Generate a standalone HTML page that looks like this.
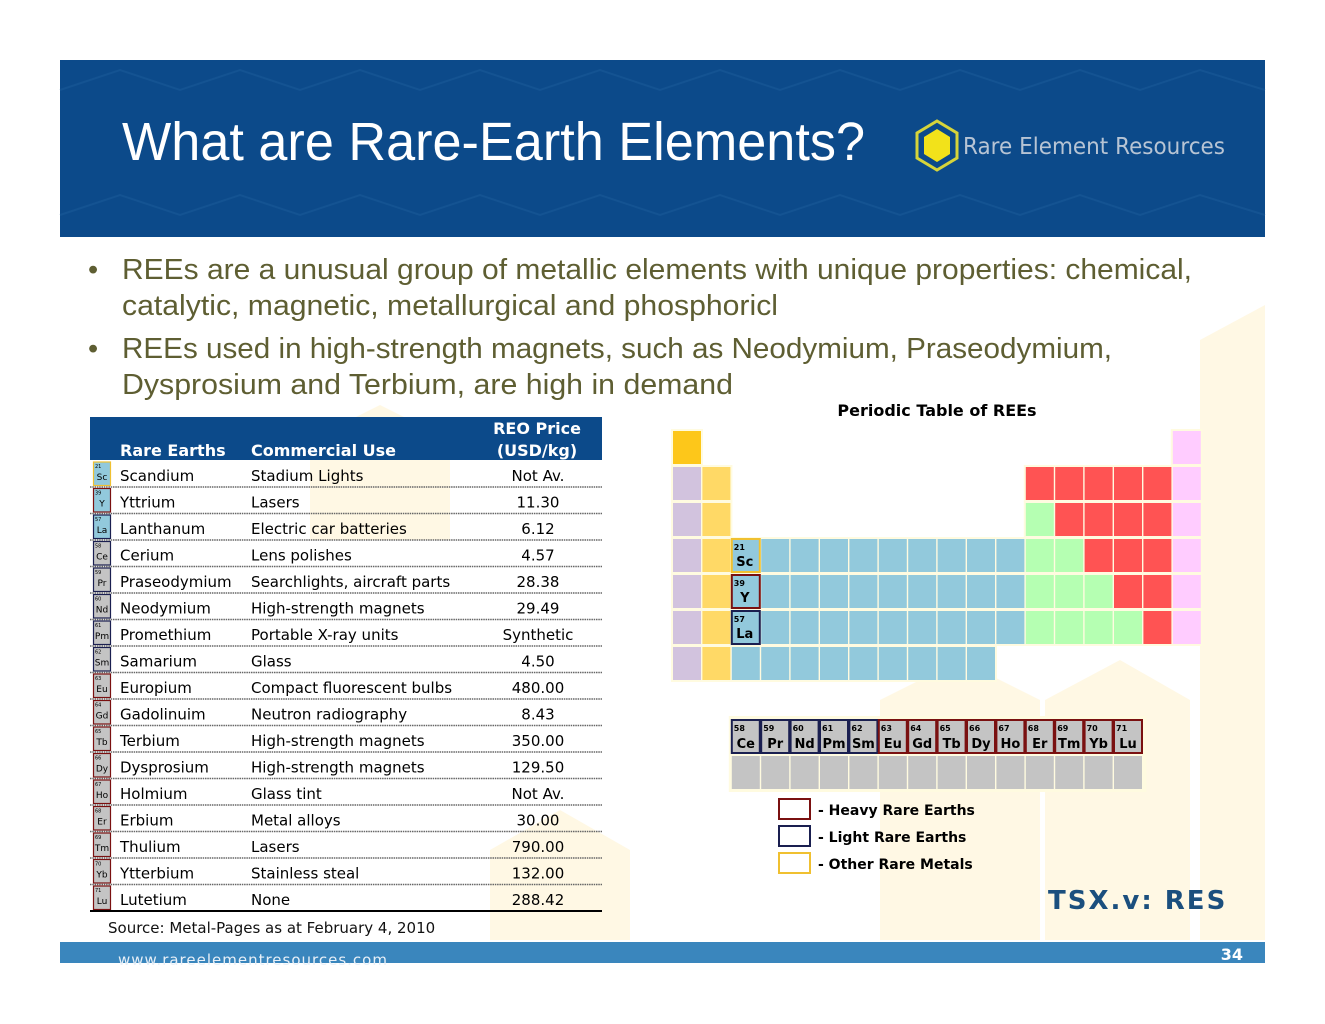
<!DOCTYPE html>
<html><head><meta charset="utf-8">
<style>
html,body{margin:0;padding:0;background:#fff;}
svg{display:block;font-family:"DejaVu Sans","Liberation Sans",sans-serif;}
</style></head>
<body>
<svg id="s" width="1325" height="1024" viewBox="0 0 1325 1024" xmlns="http://www.w3.org/2000/svg">
<rect width="1325" height="1024" fill="#fff"/>
<g fill="#fff8e4">
<polygon points="310,440 380,405 450,440 450,540 310,540"/>
<polygon points="880,940 880,700 960,660 1040,700 1040,940"/>
<polygon points="1045,940 1045,700 1120,660 1190,700 1190,940"/>
<polygon points="490,940 490,850 560,810 630,850 630,940"/>
<polygon points="1200,940 1200,340 1265,305 1265,940"/>
</g>
<rect x="60" y="60" width="1205" height="177" fill="#0c4a8a"/>
<g stroke="#1a5a98" stroke-width="2" fill="none" opacity="0.6">
<path d="M60,90 L120,70 L180,90 L240,70 L300,90 L360,70 L420,90 L480,70 L540,90 L600,70 L660,90 L720,70 L780,90 L840,70 L900,90 L960,70 L1020,90 L1080,70 L1140,90 L1200,70 L1265,90"/>
<path d="M60,215 L120,195 L180,215 L240,195 L300,215 L360,195 L420,215 L480,195 L540,215 L600,195 L660,215 L720,195 L780,215 L840,195 L900,215 L960,195 L1020,215 L1080,195 L1140,215 L1200,195 L1265,215"/>
</g>
<text x="122" y="160" font-family="Liberation Sans, sans-serif" font-size="54" fill="#fff" textLength="743" lengthAdjust="spacingAndGlyphs">What are Rare-Earth Elements?</text>
<g>
<polygon points="937,121 957,133 957,158 937,170 917,158 917,133" fill="none" stroke="#d6d43a" stroke-width="3"/>
<polygon points="937,129 950,137 950,154 937,162 924,154 924,137" fill="#f2e21a"/>
<text x="963" y="154" font-size="23" fill="#b7c4d4" textLength="262" lengthAdjust="spacingAndGlyphs">Rare Element Resources</text>
</g>
<g font-family="Liberation Sans, sans-serif" font-size="29" fill="#5e5e32">
<text x="88" y="279">•</text>
<text x="122" y="279" textLength="1070" lengthAdjust="spacingAndGlyphs">REEs are a unusual group of metallic elements with unique properties: chemical,</text>
<text x="122" y="315" textLength="656" lengthAdjust="spacingAndGlyphs">catalytic, magnetic, metallurgical and phosphoricl</text>
<text x="88" y="358">•</text>
<text x="122" y="358" textLength="990" lengthAdjust="spacingAndGlyphs">REEs used in high-strength magnets, such as Neodymium, Praseodymium,</text>
<text x="122" y="394" textLength="611" lengthAdjust="spacingAndGlyphs">Dysprosium and Terbium, are high in demand</text>
</g>
<g id="tbl">
<rect x="90" y="417" width="512" height="43" fill="#0c4a8a"/>
<g font-weight="bold" font-size="16" fill="#fff">
<text x="120" y="456">Rare Earths</text>
<text x="251" y="456">Commercial Use</text>
<text x="537" y="434" text-anchor="middle">REO Price</text>
<text x="537" y="456" text-anchor="middle">(USD/kg)</text>
</g>
</g>
<text x="108" y="933" font-size="15" fill="#111">Source: Metal-Pages as at February 4, 2010</text>
<text x="937" y="416" text-anchor="middle" font-size="16" font-weight="bold" fill="#000">Periodic Table of REEs</text>
<g id="pt"></g>
<g font-size="14" font-weight="bold" fill="#000">
<rect x="779" y="799" width="31" height="20" fill="#fff" stroke="#7a1010" stroke-width="2"/>
<text x="818" y="815">- Heavy Rare Earths</text>
<rect x="779" y="826" width="31" height="20" fill="#fff" stroke="#1a1f50" stroke-width="2"/>
<text x="818" y="842">- Light Rare Earths</text>
<rect x="779" y="853" width="31" height="20" fill="#fff" stroke="#f0c030" stroke-width="2"/>
<text x="818" y="869">- Other Rare Metals</text>
</g>
<text x="1048" y="909" font-size="26" font-weight="bold" fill="#1b4f7e" letter-spacing="2">TSX.v: RES</text>
<rect x="60" y="942" width="1205" height="21" fill="#3a86bd"/>
<text x="118" y="965" font-size="15" fill="#e8f0f8" letter-spacing="1">www.rareelementresources.com</text>
<text x="1243" y="960" text-anchor="end" font-size="16" font-weight="bold" fill="#fff">34</text>
</svg>
<script>
var NS="http://www.w3.org/2000/svg";
var symbols=["Sc","Y","La","Ce","Pr","Nd","Pm","Sm","Eu","Gd","Tb","Dy","Ho","Er","Tm","Yb","Lu"];
var numbers=[21,39,57,58,59,60,61,62,63,64,65,66,67,68,69,70,71];
var names=["Scandium","Yttrium","Lanthanum","Cerium","Praseodymium","Neodymium","Promethium","Samarium","Europium","Gadolinuim","Terbium","Dysprosium","Holmium","Erbium","Thulium","Ytterbium","Lutetium"];
var uses=["Stadium Lights","Lasers","Electric car batteries","Lens polishes","Searchlights, aircraft parts","High-strength magnets","Portable X-ray units","Glass","Compact fluorescent bulbs","Neutron radiography","High-strength magnets","High-strength magnets","Glass tint","Metal alloys","Lasers","Stainless steal","None"];
var prices=["Not Av.","11.30","6.12","4.57","28.38","29.49","Synthetic","4.50","480.00","8.43","350.00","129.50","Not Av.","30.00","790.00","132.00","288.42"];
var groups=["other","heavy","light","light","light","light","light","light","heavy","heavy","heavy","heavy","heavy","heavy","heavy","heavy","heavy"];
var borderCol={other:"#f0c030",heavy:"#7a1010",light:"#1a1f50"};
function mk(t,a,p){var e=document.createElementNS(NS,t);for(var k in a)e.setAttribute(k,a[k]);p.appendChild(e);return e;}
var tbl=document.getElementById('tbl');
var y0=461,rh=26.5;
for(var i=0;i<names.length;i++){
  var y=y0+i*rh;
  var g=mk('g',{},tbl);
  
  
  var bg=i<3?"#92c9dc":"#c4c4c4";
  mk('rect',{x:93.5,y:y+1,width:17,height:rh-3,fill:bg,stroke:borderCol[groups[i]],"stroke-width":1.2},g);
  var t=mk('text',{x:95,y:y+7,"font-size":5,fill:"#000"},g);t.textContent=numbers[i];
  t=mk('text',{x:102,y:y+19,"font-size":9,fill:"#000","text-anchor":"middle"},g);t.textContent=symbols[i];
  t=mk('text',{x:120,y:y+20,"font-size":15,fill:"#000"},g);t.textContent=names[i];
  t=mk('text',{x:251,y:y+20,"font-size":15,fill:"#000"},g);t.textContent=uses[i];
  t=mk('text',{x:538,y:y+20,"font-size":15,fill:"#000","text-anchor":"middle"},g);t.textContent=prices[i];
  mk('line',{x1:90,x2:602,y1:y+rh-0.5,y2:y+rh-0.5,stroke:i==names.length-1?"#000":"#666","stroke-width":i==names.length-1?2:1.5,"stroke-dasharray":i==names.length-1?"":"1.5,0.8"},g);
}
var pt=document.getElementById('pt');
var C={o:"#fdc71a",p:"#d2c3de",y:"#ffd966",b:"#92c9dc",g:"#b5ffb2",r:"#ff5353",k:"#ffccff",n:"#c4c4c4"};
var layout=[
"o................k",
"py..........rrrrrk",
"py..........grrrrk",
"pybbbbbbbbbbggrrrk",
"pybbbbbbbbbbgggrrk",
"pybbbbbbbbbbggggrk",
"pybbbbbbbbb......."];
var px0=673,pdx=29.4,py0=431,pdy=36,cw=28,ch=34;
for(var r=0;r<layout.length;r++)for(var c=0;c<18;c++){
  var ch1=layout[r][c]; if(ch1==='.')continue;
  mk('rect',{x:px0+c*pdx-2,y:py0+r*pdy-2,width:cw+4,height:ch+3,fill:"#fffbe0"},pt);
}
for(var r=0;r<layout.length;r++)for(var c=0;c<18;c++){
  var ch1=layout[r][c]; if(ch1==='.')continue;
  var cell=mk('rect',{x:px0+c*pdx,y:py0+r*pdy,width:cw,height:ch-1,fill:C[ch1]},pt);
  
  
}
var hl=[["21","Sc",3,"#f0c030"],["39","Y",4,"#7a1010"],["57","La",5,"#1a1f50"]];
hl.forEach(function(h){
  var x=px0+2*pdx,y=py0+h[2]*pdy;
  var g=mk('g',{},pt);
  
  
  mk('rect',{x:x,y:y,width:cw,height:ch-1,fill:C.b,stroke:h[3],"stroke-width":2},g);
  var t=mk('text',{x:x+2,y:y+11,"font-size":8,"font-weight":"bold"},g);t.textContent=h[0];
  t=mk('text',{x:x+13,y:y+27,"font-size":13,"font-weight":"bold","text-anchor":"middle"},g);t.textContent=h[1];
});
mk('rect',{x:px0+2*pdx-3,y:716,width:14*pdx+6,height:76,fill:"#fffbe0"},pt);
for(var j=3;j<17;j++){
  var k=j-3,x=px0+(2+k)*pdx;
  var g=mk('g',{},pt);
  
  
  mk('rect',{x:x,y:720,width:cw,height:33,fill:C.n,stroke:borderCol[groups[j]],"stroke-width":2},g);
  var t=mk('text',{x:x+2,y:731,"font-size":8,"font-weight":"bold"},g);t.textContent=numbers[j];
  t=mk('text',{x:x+14,y:748,"font-size":13,"font-weight":"bold","text-anchor":"middle"},g);t.textContent=symbols[j];
  mk('rect',{x:x,y:756,width:cw,height:33,fill:C.n},pt);
}
</script>
</body></html>
